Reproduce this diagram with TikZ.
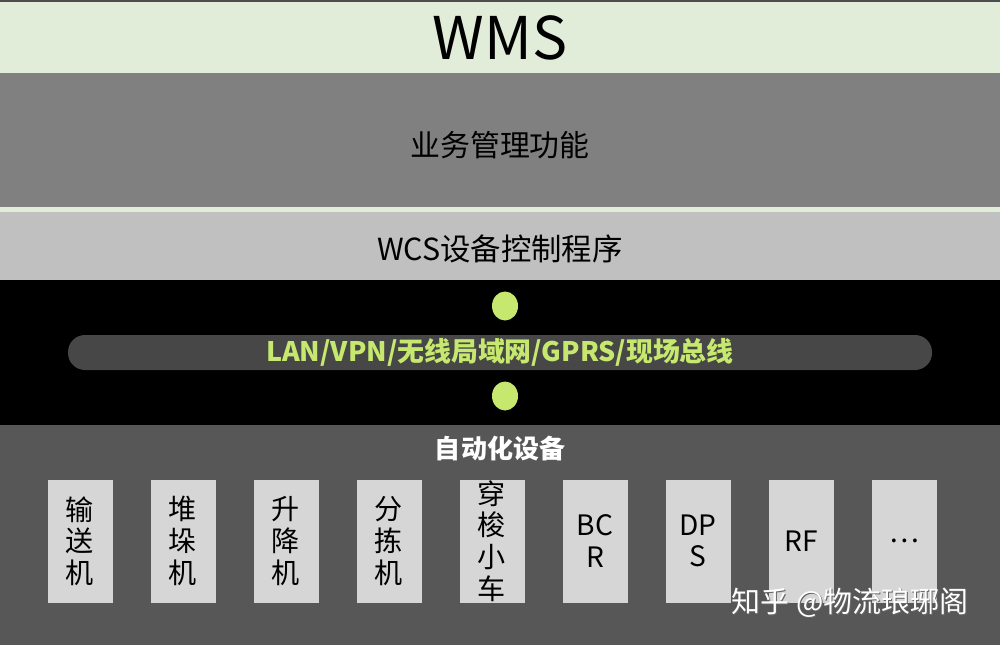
\documentclass[tikz,border=0pt]{standalone}
\usepackage{fontspec}
\setmainfont{Noto Sans CJK SC}
\usepackage{tikz}
\definecolor{wmsbg}{HTML}{E2EDD9}
\definecolor{bizbg}{HTML}{808080}
\definecolor{wcsbg}{HTML}{C0C0C0}
\definecolor{netbg}{HTML}{000000}
\definecolor{pillbg}{HTML}{474747}
\definecolor{netgreen}{HTML}{C6E86E}
\definecolor{devbg}{HTML}{575757}
\definecolor{boxbg}{HTML}{D6D6D6}
\tikzset{
  devbox/.style={fill=boxbg,minimum width=65*0.02cm,minimum height=123*0.02cm,
    inner sep=0pt,align=center,font=\fontsize{16}{18}\selectfont},
  netdot/.style={fill=netgreen,ellipse,minimum width=26*0.02cm,minimum height=29*0.02cm,inner sep=0pt}
}
\usetikzlibrary{shapes.geometric}
\begin{document}
\begin{tikzpicture}[x=0.02cm,y=-0.02cm]
\useasboundingbox (0,0) rectangle (1000,645);
% bands
\fill[wmsbg] (0,0) rectangle (1000,73);
\fill[black!70] (0,0) rectangle (1000,2);
\fill[bizbg] (0,73) rectangle (1000,207);
\fill[wmsbg] (0,207) rectangle (1000,212);
\fill[wcsbg] (0,212) rectangle (1000,280);
\fill[netbg] (0,280) rectangle (1000,425);
\fill[devbg] (0,425) rectangle (1000,645);
% layer titles
\node[font=\fontsize{33.5}{33.5}\selectfont] (wms) at (500,38) {WMS};
\node[font=\fontsize{17}{17}\selectfont] (biz) at (500,145) {业务管理功能};
\node[font=\fontsize{17.3}{17.3}\selectfont] (wcs) at (500,249) {WCS设备控制程序};
% network
\fill[pillbg,rounded corners=17*0.02cm] (68,335) rectangle (932,370);
\node[font=\bfseries\fontsize{15.3}{15.3}\selectfont,text=netgreen] (net) at (500,352) {LAN/VPN/无线局域网/GPRS/现场总线};
\node[netdot] (dotup) at (505,306) {};
\node[netdot] (dotdown) at (505,396) {};
% devices
\node[font=\bfseries\fontsize{14.8}{14.8}\selectfont,text=white] (dev) at (500,449) {自动化设备};
\foreach \i/\txt in {0/{输\\送\\机},1/{堆\\垛\\机},2/{升\\降\\机},3/{分\\拣\\机},4/{穿\\梭\\小\\车},5/{BC\\R},6/{DP\\S},7/{RF},8/{\ldots}}{
  \node[devbox] (box\i) at (80+103*\i,541) {\txt};
}
% watermark
\node[font=\fontsize{16.5}{16.5}\selectfont,text=black!60] at (851,604) {知乎 @物流琅琊阁};
\node[font=\fontsize{16.5}{16.5}\selectfont,text=white] (mark) at (850,603) {知乎 @物流琅琊阁};
\end{tikzpicture}
\end{document}
